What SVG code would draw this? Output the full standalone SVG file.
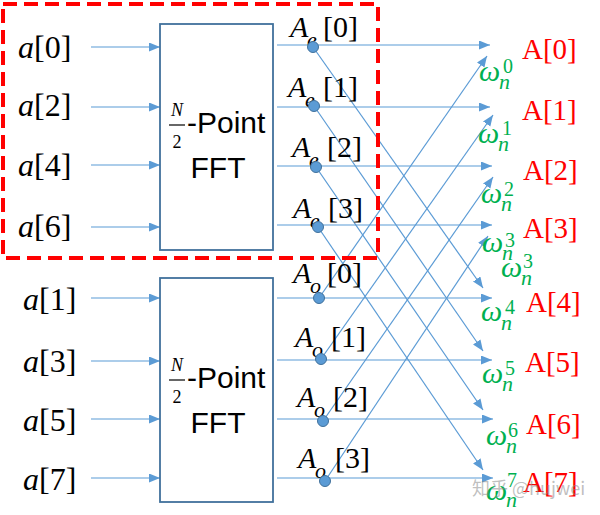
<svg xmlns="http://www.w3.org/2000/svg" width="600" height="515" viewBox="0 0 600 515">
<style>
.bg{fill:#ffffff}
.box{fill:#ffffff;stroke:#41719C;stroke-width:1.8}
.ln{stroke:#5B9BD5;stroke-width:1.2;fill:none;marker-end:url(#ah)}
.dot{fill:#5B9BD5;stroke:#41719C;stroke-width:1}
.lbl{font-family:"Liberation Serif",serif;font-size:30px;fill:#000}
.inl{font-family:"Liberation Serif",serif;font-size:32px;fill:#000}
.it{font-style:italic}
.sub{font-family:"Liberation Serif",serif;font-size:22px;font-style:italic;fill:#000}
.out{font-family:"Liberation Serif",serif;font-size:29px;fill:#FF0000}
.w{font-family:"Liberation Serif",serif;font-size:30px;font-style:italic;fill:#00B050}
.wn{font-family:"Liberation Serif",serif;font-size:22px;font-style:italic;fill:#00B050}
.ws{font-family:"Liberation Serif",serif;font-size:20px;fill:#00B050}
.fft{font-family:"Liberation Sans",Arial,sans-serif;font-size:30px;fill:#000}
.fr{font-family:"Liberation Serif",serif;font-size:18px;fill:#000}
.dash{fill:none;stroke:#FF0000;stroke-width:4;stroke-dasharray:14 7}
.wm{font-family:"Noto Sans CJK SC","Noto Sans",sans-serif;font-size:18px;fill:#8a8a8a;fill-opacity:0.55}
</style>
<defs>
<marker id="ah" markerUnits="userSpaceOnUse" markerWidth="12" markerHeight="10" refX="11" refY="4.5" orient="auto">
<path d="M0,0 L11,4.5 L0,9 z" fill="#5B9BD5"/>
</marker>
</defs>
<rect class="bg" x="0" y="0" width="600" height="515"/>

<g id="connectors">
<line class="ln" x1="91" y1="47" x2="160" y2="47"/>
<line class="ln" x1="91" y1="107" x2="160" y2="107"/>
<line class="ln" x1="91" y1="165" x2="160" y2="165"/>
<line class="ln" x1="91" y1="227" x2="160" y2="227"/>
<line class="ln" x1="91" y1="298" x2="160" y2="298"/>
<line class="ln" x1="91" y1="361" x2="160" y2="361"/>
<line class="ln" x1="91" y1="419" x2="160" y2="419"/>
<line class="ln" x1="91" y1="478" x2="160" y2="478"/>

<line class="ln" x1="277" y1="45" x2="490" y2="45"/>
<line class="ln" x1="277" y1="107" x2="490" y2="107"/>
<line class="ln" x1="277" y1="166" x2="492" y2="166"/>
<line class="ln" x1="277" y1="225" x2="492" y2="225"/>
<line class="ln" x1="277" y1="298" x2="492" y2="298"/>
<line class="ln" x1="277" y1="360" x2="492" y2="360"/>
<line class="ln" x1="277" y1="419" x2="493" y2="419"/>
<line class="ln" x1="277" y1="478" x2="493" y2="478"/>

<line class="ln" x1="313" y1="47" x2="483" y2="288"/>
<line class="ln" x1="314" y1="106" x2="483" y2="351"/>
<line class="ln" x1="316" y1="167" x2="483" y2="410"/>
<line class="ln" x1="318" y1="227" x2="483" y2="470"/>

<line class="ln" x1="319" y1="298" x2="487" y2="56"/>
<line class="ln" x1="321" y1="359" x2="493" y2="115"/>
<line class="ln" x1="323" y1="421" x2="493" y2="177"/>
<line class="ln" x1="325" y1="481" x2="488" y2="236"/>
</g>

<g id="fft-even">
<rect class="box" x="160" y="24" width="113" height="226"/>
<text class="fr it" x="177" y="116" text-anchor="middle">N</text>
<line x1="169" y1="125" x2="185" y2="125" stroke="#000" stroke-width="1.2"/>
<text class="fr" x="177" y="148" text-anchor="middle">2</text>
<text class="fft" x="187" y="133">-Point</text>
<text class="fft" x="218" y="178" text-anchor="middle">FFT</text>
</g>

<g id="fft-odd">
<rect class="box" x="160" y="278" width="113" height="224"/>
<text class="fr it" x="177" y="371" text-anchor="middle">N</text>
<line x1="169" y1="380" x2="185" y2="380" stroke="#000" stroke-width="1.2"/>
<text class="fr" x="177" y="403" text-anchor="middle">2</text>
<text class="fft" x="187" y="388">-Point</text>
<text class="fft" x="218" y="433" text-anchor="middle">FFT</text>
</g>

<g id="inputs">
<text class="inl" x="18" y="58"><tspan class="it">a</tspan>[0]</text>
<text class="inl" x="18" y="116"><tspan class="it">a</tspan>[2]</text>
<text class="inl" x="18" y="176"><tspan class="it">a</tspan>[4]</text>
<text class="inl" x="18" y="237"><tspan class="it">a</tspan>[6]</text>
<text class="inl" x="23" y="310"><tspan class="it">a</tspan>[1]</text>
<text class="inl" x="23" y="372"><tspan class="it">a</tspan>[3]</text>
<text class="inl" x="23" y="431"><tspan class="it">a</tspan>[5]</text>
<text class="inl" x="23" y="490"><tspan class="it">a</tspan>[7]</text>
</g>

<g id="even-outputs">
<text class="lbl it" x="290" y="37">A</text><text class="sub" x="307" y="47">e</text><text class="lbl" x="323" y="37">[0]</text>
<text class="lbl it" x="288" y="97">A</text><text class="sub" x="305" y="107">e</text><text class="lbl" x="323" y="97">[1]</text>
<text class="lbl it" x="292" y="157">A</text><text class="sub" x="309" y="167">e</text><text class="lbl" x="327" y="157">[2]</text>
<text class="lbl it" x="293" y="218">A</text><text class="sub" x="310" y="228">e</text><text class="lbl" x="328" y="218">[3]</text>
<circle class="dot" cx="313" cy="47" r="5.5"/>
<circle class="dot" cx="314" cy="106" r="5.5"/>
<circle class="dot" cx="316" cy="167" r="5.5"/>
<circle class="dot" cx="318" cy="227" r="5.5"/>
</g>

<g id="odd-outputs">
<text class="lbl it" x="293" y="283">A</text><text class="sub" x="310" y="293">o</text><text class="lbl" x="327" y="283">[0]</text>
<text class="lbl it" x="295" y="347">A</text><text class="sub" x="312" y="357">o</text><text class="lbl" x="331" y="347">[1]</text>
<text class="lbl it" x="297" y="407">A</text><text class="sub" x="314" y="417">o</text><text class="lbl" x="333" y="407">[2]</text>
<text class="lbl it" x="298" y="468">A</text><text class="sub" x="315" y="478">o</text><text class="lbl" x="335" y="468">[3]</text>
<circle class="dot" cx="319" cy="298" r="5.5"/>
<circle class="dot" cx="321" cy="359" r="5.5"/>
<circle class="dot" cx="323" cy="421" r="5.5"/>
<circle class="dot" cx="325" cy="481" r="5.5"/>
</g>

<g id="twiddles">
<text class="w" x="479" y="81">ω</text><text class="wn" x="499" y="89">n</text><text class="ws" x="503" y="73">0</text>
<text class="w" x="478" y="143">ω</text><text class="wn" x="498" y="151">n</text><text class="ws" x="502" y="135">1</text>
<text class="w" x="481" y="203">ω</text><text class="wn" x="501" y="211">n</text><text class="ws" x="504" y="196">2</text>
<text class="w" x="482" y="252">ω</text><text class="wn" x="502" y="260">n</text><text class="ws" x="505" y="247">3</text>
<text class="w" x="501" y="277">ω</text><text class="wn" x="521" y="285">n</text><text class="ws" x="523" y="268">3</text>
<text class="w" x="481" y="321">ω</text><text class="wn" x="501" y="330">n</text><text class="ws" x="505" y="314">4</text>
<text class="w" x="482" y="383">ω</text><text class="wn" x="502" y="391">n</text><text class="ws" x="505" y="375">5</text>
<text class="w" x="486" y="445">ω</text><text class="wn" x="506" y="453">n</text><text class="ws" x="508" y="437">6</text>
<text class="w" x="486" y="500">ω</text><text class="wn" x="506" y="507">n</text><text class="ws" x="507" y="487">7</text>
</g>

<g id="results">
<text class="out" x="522" y="59">A[0]</text>
<text class="out" x="522" y="120">A[1]</text>
<text class="out" x="523" y="180">A[2]</text>
<text class="out" x="523" y="238">A[3]</text>
<text class="out" x="526" y="312">A[4]</text>
<text class="out" x="525" y="372">A[5]</text>
<text class="out" x="526" y="434">A[6]</text>
<text class="out" x="523" y="492">A[7]</text>
</g>

<g id="even-group">
<rect class="dash" x="3" y="4" width="375" height="254"/>
</g>

<text class="wm" x="472" y="495">知乎 @hujwei</text>
</svg>
